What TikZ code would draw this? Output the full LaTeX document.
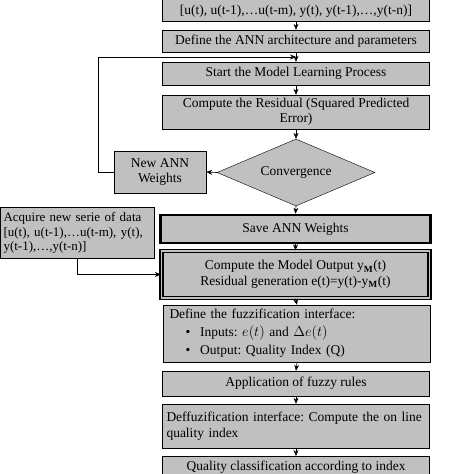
\documentclass[tikz,border=0pt]{standalone}
\usepackage{fontspec}
\setmainfont{Liberation Serif}
\usetikzlibrary{arrows.meta,positioning,shapes,calc}
\definecolor{boxgray}{RGB}{192,192,192}
\frenchspacing

\begin{document}
\begin{tikzpicture}[x=1pt, y=-1pt,
        every node/.style={font=\fontsize{13.5}{15.5}\selectfont},
        box/.style={rectangle, draw=black, fill=boxgray, minimum width=267pt, align=center, inner sep=2pt},
        leftbox/.style={box, align=left, inner xsep=4pt, text width=259pt},
        heavybox/.style={box, minimum width=270pt, line width=2.6pt},
        dblbox/.style={box, minimum width=268pt, double=boxgray, double distance=1.6pt, line width=1.3pt},
        decision/.style={diamond, draw=black, fill=boxgray, minimum width=158pt, minimum height=67pt, aspect=2.4, inner sep=1pt},
        arrow/.style={-{Stealth[length=6pt, width=5pt]}, black, semithick}
    ]
    \useasboundingbox (0,0) rectangle (474,474);
    \clip (0,0) rectangle (474,474);
    % main column
    \node[box, minimum height=31pt, anchor=south] (inp) at (296,21) {};
    \node (inptext) at (296,11) {[u(t), u(t-1),\ldots u(t-m), y(t), y(t-1),\ldots,y(t-n)]};
    \node[box, minimum height=22pt] (arch) at (296,41) {Define the ANN architecture and parameters};
    \node[box, minimum height=23pt] (learn) at (296,73.5) {Start the Model Learning Process};
    \node[box, minimum height=34pt] (resid) at (296,112) {Compute the Residual (Squared Predicted\\Error)};
    \node[decision] (conv) at (296,172.5) {Convergence};
    \node[box, minimum width=92pt, minimum height=42pt] (neww) at (160,172) {New ANN\\Weights};
    \node[heavybox, minimum height=28pt] (save) at (295.5,229) {Save ANN Weights};
    \node[dblbox, minimum height=47pt] (outp) at (295.5,274.5) {Compute the Model Output y\textsubscript{\textbf{M}}(t)\\Residual generation e(t)=y(t)-y\textsubscript{\textbf{M}}(t)};
    \node[box, align=left, text width=147pt, inner xsep=3.5pt, minimum width=154pt, minimum height=51pt,
        font=\fontsize{13}{14.5}\selectfont] (acq) at (77,233) {Acquire new serie of data\\{}[u(t), u(t-1),\ldots u(t-m), y(t),\\y(t-1),\ldots,y(t-n)]};
    \node[leftbox, minimum height=57pt, inner xsep=6pt, text width=255pt] (fuzz) at (297,333.5) {Define the fuzzification interface:\\[2.5pt]
        \hspace*{16pt}\textbullet\hspace{10pt}Inputs: $e(t)$ and $\Delta e(t)$\\[2.5pt]
        \hspace*{16pt}\textbullet\hspace{10pt}Output: Quality Index (Q)};
    \node[box, minimum height=25pt] (rules) at (296,383.5) {Application of fuzzy rules};
    \node[leftbox, minimum height=44pt] (deff) at (296,426) {Deffuzification interface: Compute the on line\\quality index};
    \node[box, minimum height=34pt, anchor=north] (qual) at (296,456) {};
    \node (qualtext) at (296,467) {Quality classification according to index};
    % connectors
    \coordinate (join) at ($(arch.south)!0.5!(learn.north)$);
    \draw[arrow] (inp.south) -- (arch.north);
    \draw[arrow] (arch.south) -- (learn.north);
    \draw[arrow] (learn.south) -- (resid.north);
    \draw[arrow] (resid.south) -- (conv.north);
    \draw[arrow] (conv.west) -- (neww.east);
    \draw[arrow] (neww.west) -- ++(-16,0) |- (join);
    \draw[arrow] (conv.south) -- (save.north);
    \draw[arrow] (save.south) -- (outp.north);
    \draw[arrow] (acq.south) |- (outp.west);
    \draw[arrow] (outp.south) -- (fuzz.north);
    \draw[arrow] (fuzz.south) -- (rules.north);
    \draw[arrow] (rules.south) -- (deff.north);
    \draw[arrow] (deff.south) -- (qual.north);
\end{tikzpicture}
\end{document}
